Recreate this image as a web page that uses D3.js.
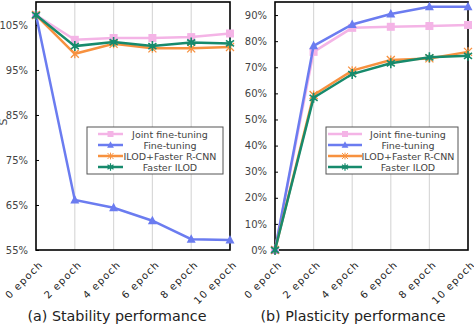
<!DOCTYPE html>
<html>
<head>
<meta charset="utf-8">
<script src="https://cdn.jsdelivr.net/npm/d3@7"></script>
<style>
  body { margin: 0; background: #fff; }
  svg { display: block; }
  .tick text { font-family: "DejaVu Sans", sans-serif; }
</style>
</head>
<body>
<svg id="chart" width="474" height="325"></svg>
<script>
var epochs = [0, 2, 4, 6, 8, 10];
var seriesNames = ['Joint fine-tuning', 'Fine-tuning', 'ILOD+Faster R-CNN', 'Faster ILOD'];
var seriesColors = ['#f4b4e6', '#6b7cf0', '#f7913f', '#178a6c'];
var seriesMarkers = ['square', 'triangle', 'cross', 'star'];

// (a) stability, percent
var stabJoint = [107.2, 101.7, 102.1, 102.1, 102.3, 103.1];
var stabFine = [107.2, 66.1, 64.4, 61.5, 57.4, 57.2];
var stabIlod = [107.2, 98.6, 100.8, 99.8, 99.8, 100.1];
var stabFaster = [107.2, 100.3, 101.2, 100.3, 101.1, 100.9];

// (b) plasticity, percent
var plasJoint = [0, 75.9, 85.1, 85.5, 85.8, 86.2];
var plasFine = [0, 78.2, 86.4, 90.4, 93.2, 93.2];
var plasIlod = [0, 59.4, 68.7, 72.8, 73.4, 75.9];
var plasFaster = [0, 58.3, 67.4, 71.5, 73.8, 74.4];

var stabTicks = [55, 65, 75, 85, 95, 105];
var plasTicks = [0, 10, 20, 30, 40, 50, 60, 70, 80, 90];

var svg = d3.select('#chart');

function drawMarker(g, type, color) {
  if (type === 'square') {
    g.append('rect').attr('x', -4).attr('y', -4).attr('width', 8).attr('height', 8).attr('fill', color);
  } else if (type === 'triangle') {
    g.append('path').attr('d', 'M0,-5L4.5,3.5L-4.5,3.5Z').attr('fill', color);
  } else if (type === 'cross') {
    g.append('path').attr('d', 'M-4,-4L4,4M-4,4L4,-4M0,-4.5L0,4.5').attr('stroke', color).attr('stroke-width', 1.3);
  } else {
    g.append('path').attr('d', 'M-4,-3L4,3M-4,3L4,-3M0,-5L0,5').attr('stroke', color).attr('stroke-width', 1.6);
    g.append('rect').attr('x', -2).attr('y', -2).attr('width', 4).attr('height', 4).attr('fill', color);
  }
}

function panel(opt) {
  var x = d3.scaleLinear().domain([0, 10]).range([opt.x0, opt.x1]);
  var y = d3.scaleLinear().domain(opt.yDomain).range([250, 2]);
  var g = svg.append('g');

  // grid
  g.selectAll('.grid').data(epochs.slice(1, 5)).join('line')
    .attr('x1', d => x(d)).attr('x2', d => x(d))
    .attr('y1', 2).attr('y2', 250)
    .attr('stroke', '#d9d9d9').attr('stroke-width', 1.2);

  // y axis
  var yG = g.append('g').attr('transform', 'translate(' + opt.x0 + ',0)')
    .call(d3.axisLeft(y).tickValues(opt.ticks).tickSize(-3).tickPadding(8).tickFormat(d => d + '%'));
  yG.select('.domain').remove();
  yG.selectAll('.tick text').attr('font-size', 10).attr('fill', '#444');
  yG.selectAll('.tick line').attr('stroke', '#000');

  // x axis labels
  var xG = g.append('g').attr('transform', 'translate(0,250)')
    .call(d3.axisBottom(x).tickValues(epochs).tickSize(0).tickFormat(d => d + ' epoch'));
  xG.select('.domain').remove();
  xG.selectAll('.tick text')
    .attr('font-family', '"Liberation Serif", serif')
    .attr('font-size', 10)
    .attr('letter-spacing', 1.2)
    .attr('fill', '#222')
    .attr('text-anchor', 'end')
    .attr('dy', 0)
    .attr('transform', 'translate(5,13) rotate(-45)');

  // frame
  g.append('rect').attr('x', opt.x0).attr('y', 2)
    .attr('width', opt.x1 - opt.x0).attr('height', 248)
    .attr('fill', 'none').attr('stroke', '#000').attr('stroke-width', 1.6);

  var line = d3.line().x((d, i) => x(epochs[i])).y(d => y(d));
  [0, 1, 2, 3].forEach(function(k) {
    var vals = opt.series[k];
    g.append('path').datum(vals).attr('d', line)
      .attr('fill', 'none').attr('stroke', seriesColors[k]).attr('stroke-width', 2.5);
    vals.forEach(function(v, i) {
      var m = g.append('g').attr('transform', 'translate(' + x(epochs[i]) + ',' + y(v) + ')');
      drawMarker(m, seriesMarkers[k], seriesColors[k]);
    });
  });

  // legend
  var lg = g.append('g');
  lg.append('rect').attr('x', opt.lx).attr('y', 127).attr('width', opt.lw).attr('height', 47)
    .attr('fill', '#fff').attr('stroke', '#555').attr('stroke-width', 1);
  seriesNames.forEach(function(name, k) {
    var yy = 134 + k * 11;
    lg.append('line').attr('x1', opt.lx + opt.ls).attr('x2', opt.lx + opt.ls + opt.ll)
      .attr('y1', yy).attr('y2', yy).attr('stroke', seriesColors[k]).attr('stroke-width', 2.5);
    var m = lg.append('g').attr('transform', 'translate(' + (opt.lx + opt.ls + opt.ll / 2) + ',' + yy + ') scale(0.75)');
    drawMarker(m, seriesMarkers[k], seriesColors[k]);
    lg.append('text').attr('x', opt.lx + opt.tc).attr('y', yy + 3.5)
      .attr('text-anchor', 'middle').attr('font-family', '"DejaVu Sans", sans-serif')
      .attr('font-size', 9.5).attr('fill', '#444').text(name);
  });

  // y label (only the left one is visible in the source)
  if (opt.ylab) {
    g.append('text').attr('transform', 'translate(' + (opt.x0 - 29) + ',122) rotate(-90)')
      .attr('text-anchor', 'middle').attr('font-family', '"DejaVu Sans", sans-serif')
      .attr('font-size', 11).attr('fill', '#444').text(opt.ylab);
  }

  // caption
  svg.append('text').attr('x', opt.cx).attr('y', 321).attr('text-anchor', 'middle')
    .attr('font-family', '"DejaVu Sans", sans-serif').attr('font-size', 14.3)
    .attr('fill', '#222').text(opt.caption);
}

panel({
  x0: 36, x1: 230, yDomain: [55, 110.1], ticks: stabTicks,
  series: [stabJoint, stabFine, stabIlod, stabFaster],
  lx: 87, lw: 136, ls: 11, ll: 25, tc: 83,
  ylab: 'S', cx: 117, caption: '(a) Stability performance'
});

panel({
  x0: 275, x1: 468, yDomain: [0, 95], ticks: plasTicks,
  series: [plasJoint, plasFine, plasIlod, plasFaster],
  lx: 326, lw: 132, ls: 2, ll: 34, tc: 82,
  ylab: null, cx: 353, caption: '(b) Plasticity performance'
});
</script>
</body>
</html>
